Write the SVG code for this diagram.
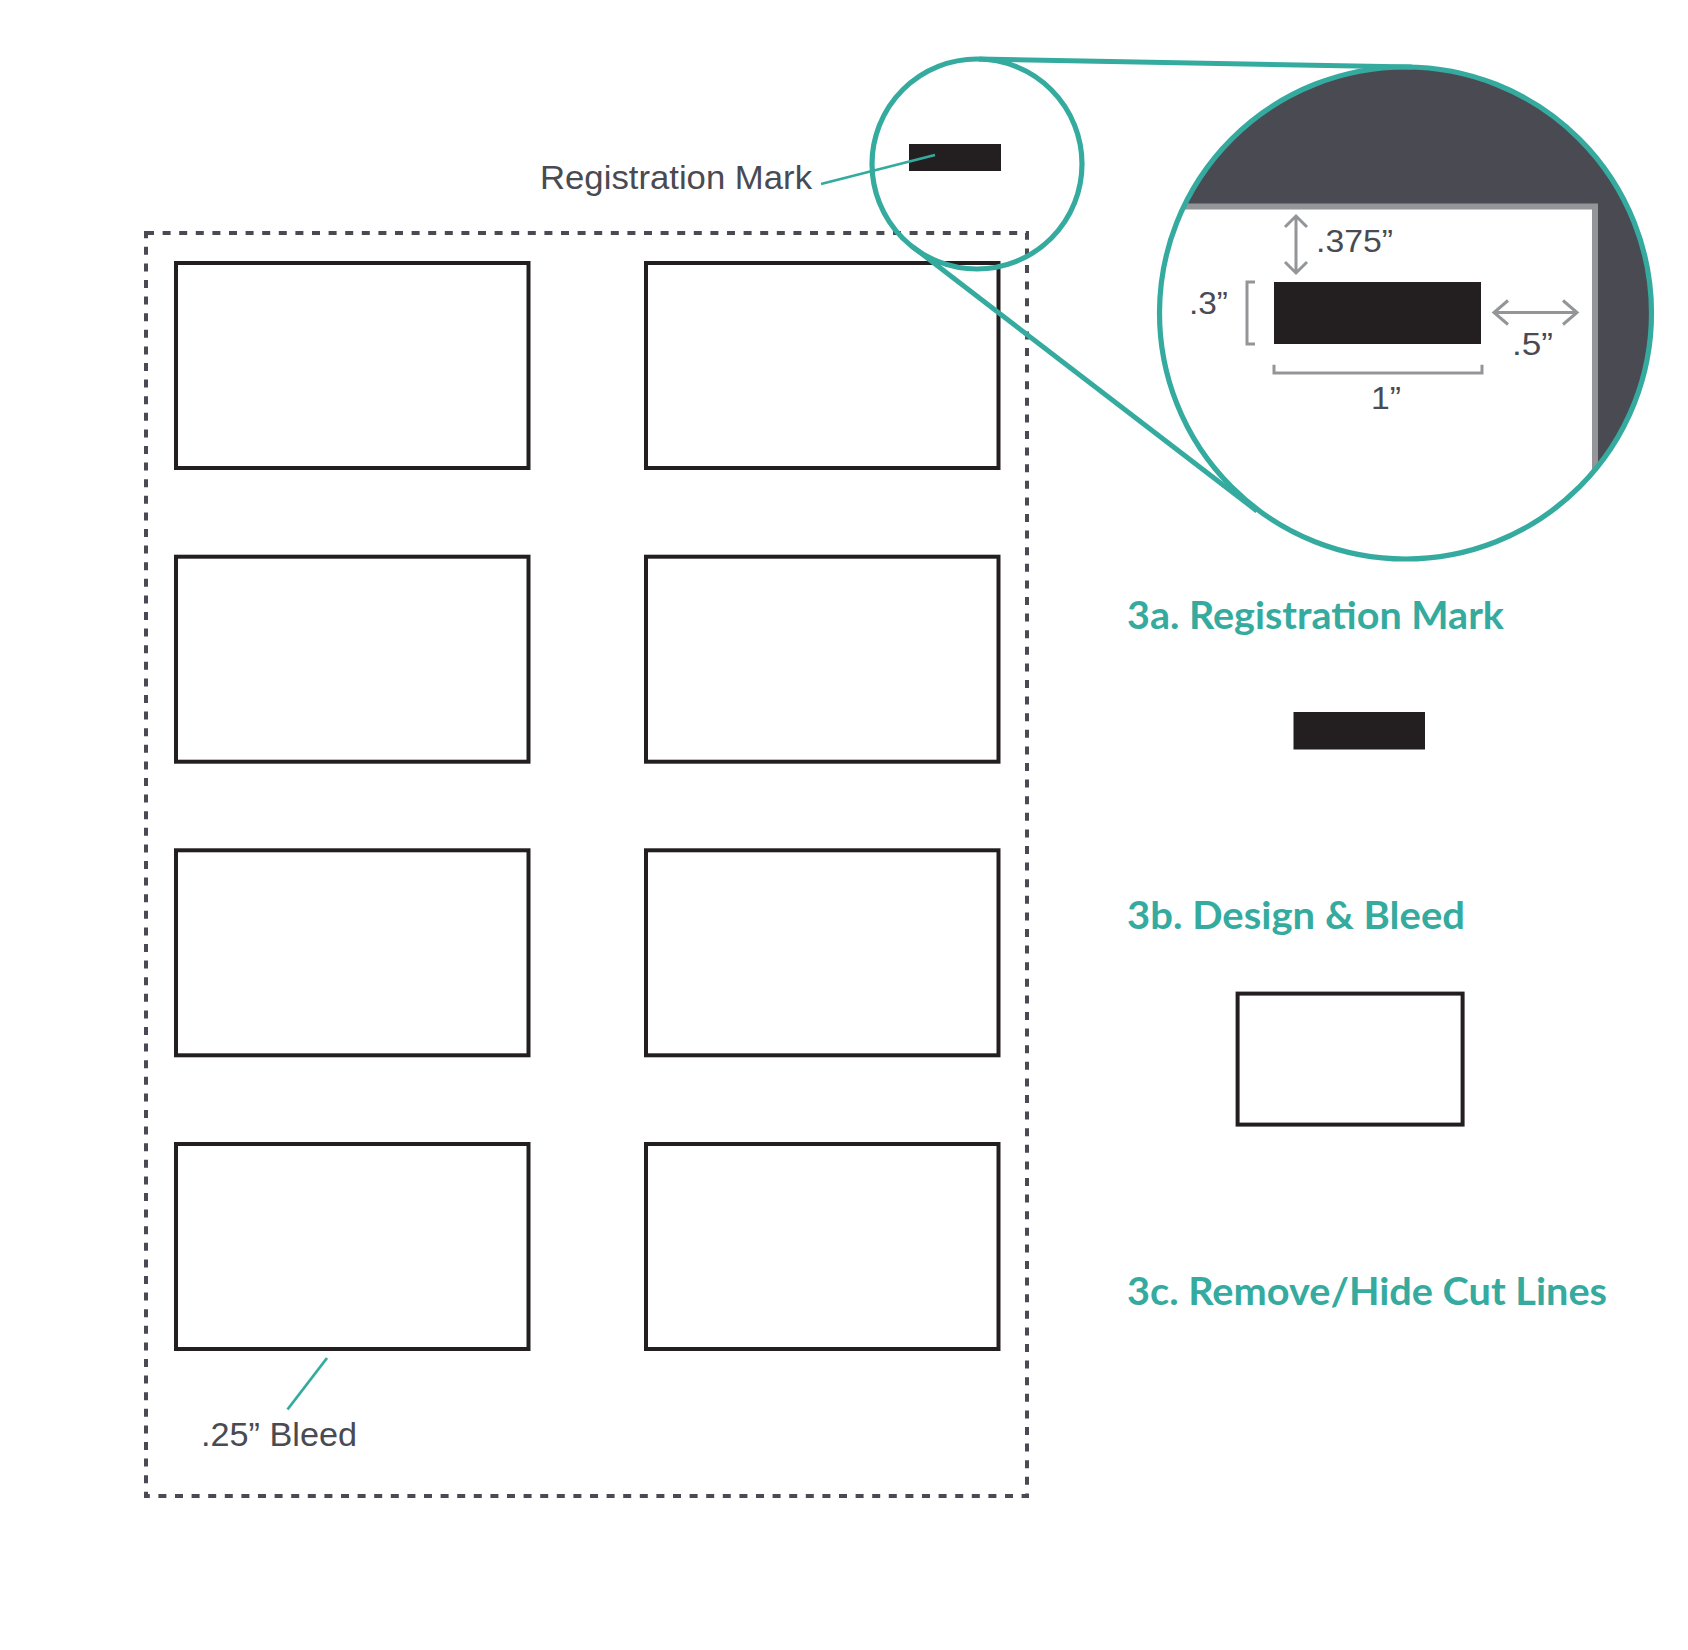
<svg xmlns="http://www.w3.org/2000/svg" width="1688" height="1650" viewBox="0 0 1688 1650">
<style>
.card{fill:#fff;stroke:#231f20;stroke-width:4}
.teal{stroke:#35ab9f;fill:none}
.dim{stroke:#939598;stroke-width:3;fill:none}
.lbl{font-family:"Liberation Sans",Arial,sans-serif;fill:#4a4a52}
.title{font-family:Lato,"Noto Sans",sans-serif;font-weight:700;fill:#35ab9f;font-size:38px}
.mark{fill:#231f20}
</style>
<defs>
<clipPath id="bigclip"><circle cx="1405.5" cy="313" r="246"/></clipPath>
</defs>
<rect width="1688" height="1650" fill="#fff"/>

<g id="sheet">
<rect x="146" y="233" width="881" height="1263" fill="none" stroke="#4a4a52" stroke-width="4" stroke-dasharray="8 8.6"/>
</g>

<g id="cards">
<rect id="card-1" class="card" x="176" y="263" width="352.5" height="205"/>
<rect id="card-2" class="card" x="646" y="263" width="352.5" height="205"/>
<rect id="card-3" class="card" x="176" y="556.7" width="352.5" height="205"/>
<rect id="card-4" class="card" x="646" y="556.7" width="352.5" height="205"/>
<rect id="card-5" class="card" x="176" y="850.3" width="352.5" height="205"/>
<rect id="card-6" class="card" x="646" y="850.3" width="352.5" height="205"/>
<rect id="card-7" class="card" x="176" y="1144" width="352.5" height="205"/>
<rect id="card-8" class="card" x="646" y="1144" width="352.5" height="205"/>
</g>

<g id="reg-mark-small">
<rect class="mark" x="909" y="144" width="92" height="27"/>
</g>

<g id="label-registration">
<text class="lbl" x="540" y="189.4" font-size="33" textLength="272" lengthAdjust="spacingAndGlyphs">Registration Mark</text>
</g>

<g id="label-bleed">
<text class="lbl" x="201" y="1446" font-size="33" textLength="156" lengthAdjust="spacingAndGlyphs">.25” Bleed</text>
</g>

<g id="zoom-detail">
<g clip-path="url(#bigclip)">
<rect x="1150" y="55" width="520" height="520" fill="#4a4a52"/>
<rect x="1100" y="206.5" width="495" height="500" fill="#fff" stroke="#939598" stroke-width="6"/>
</g>
<rect class="mark" x="1274" y="282" width="207" height="62"/>
<path class="dim" d="M1296 216 V273 M1285 227 L1296 216 L1307 227 M1285 262 L1296 273 L1307 262"/>
<path class="dim" d="M1494 312.5 H1577 M1508 300.5 L1494 312.5 L1508 324.5 M1563 300.5 L1577 312.5 L1563 324.5"/>
<path class="dim" d="M1255 282 H1247 V344 H1255"/>
<path class="dim" d="M1274 364.7 V373 H1482 V364.7"/>
<text class="lbl" x="1316" y="252" font-size="32" textLength="77" lengthAdjust="spacingAndGlyphs">.375”</text>
<text class="lbl" x="1189" y="314" font-size="32" textLength="39" lengthAdjust="spacingAndGlyphs">.3”</text>
<text class="lbl" x="1512" y="354.5" font-size="32" textLength="41" lengthAdjust="spacingAndGlyphs">.5”</text>
<text class="lbl" x="1371" y="409" font-size="32" textLength="30" lengthAdjust="spacingAndGlyphs">1”</text>
<circle class="teal" cx="1405.5" cy="313" r="246" stroke-width="5.2"/>
</g>

<g id="connectors">
<circle class="teal" cx="977" cy="164" r="105" stroke-width="5.2"/>
<line class="teal" x1="979" y1="59" x2="1412" y2="67" stroke-width="5"/>
<line class="teal" x1="913" y1="247" x2="1257" y2="511" stroke-width="5"/>
<line class="teal" x1="821" y1="184" x2="935" y2="155" stroke-width="2.8"/>
<line class="teal" x1="327" y1="1358" x2="287.5" y2="1409.5" stroke-width="2.8"/>
</g>

<g id="step-3a">
<text class="title" x="1127" y="629" textLength="377" lengthAdjust="spacingAndGlyphs">3a. Registration Mark</text>
<rect class="mark" x="1293.5" y="712" width="131.5" height="37.5"/>
</g>

<g id="step-3b">
<text class="title" x="1127" y="929" textLength="338" lengthAdjust="spacingAndGlyphs">3b. Design &amp; Bleed</text>
<rect class="card" x="1237.6" y="993.6" width="225" height="131"/>
</g>

<g id="step-3c">
<text class="title" x="1127" y="1305" textLength="480" lengthAdjust="spacingAndGlyphs">3c. Remove/Hide Cut Lines</text>
</g>
</svg>
